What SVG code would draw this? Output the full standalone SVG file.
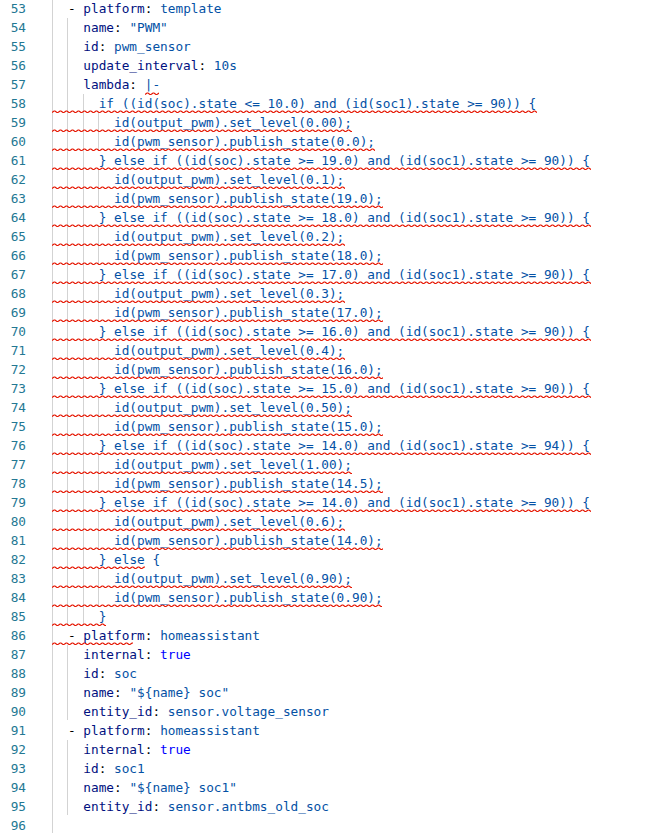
<svg xmlns="http://www.w3.org/2000/svg" width="663" height="833" viewBox="0 0 663 833">
<style>
text{font-family:"DejaVu Sans Mono","Liberation Mono",monospace;font-size:12.75px;white-space:pre;fill:#000}
.n{fill:#237893;text-anchor:end}
.k{fill:#001080}
.v{fill:#0451a5}
.b{fill:#0000ff}
.g{stroke:#d3d3d3;stroke-width:1;fill:none}
.s{fill:url(#sq);height:3px}
</style>
<defs>
<pattern id="sq" patternUnits="userSpaceOnUse" width="6" height="3"><path d="M0 2.5l2-1.5h1l2 1.5h1" fill="none" stroke="#e51400" stroke-width="1.2"/></pattern>
</defs>
<rect width="663" height="833" fill="#fff"/>
<g id="guides">
<path class="g" d="M52.5 0V833M67.5 18V625M67.5 645V720M67.5 740V815M83.5 94V625M98.5 113V151M98.5 170V208M98.5 227V265M98.5 284V322M98.5 341V379M98.5 398V436M98.5 455V493M98.5 512V550M98.5 569V607"/>
</g>
<g id="squiggles">
<rect class="s" transform="translate(145,92)" width="14"/>
<rect class="s" transform="translate(52,110)" width="485"/>
<rect class="s" transform="translate(52,129)" width="300"/>
<rect class="s" transform="translate(52,148)" width="323"/>
<rect class="s" transform="translate(52,167)" width="539"/>
<rect class="s" transform="translate(52,186)" width="293"/>
<rect class="s" transform="translate(52,205)" width="331"/>
<rect class="s" transform="translate(52,224)" width="539"/>
<rect class="s" transform="translate(52,243)" width="293"/>
<rect class="s" transform="translate(52,262)" width="331"/>
<rect class="s" transform="translate(52,281)" width="539"/>
<rect class="s" transform="translate(52,300)" width="293"/>
<rect class="s" transform="translate(52,319)" width="331"/>
<rect class="s" transform="translate(52,338)" width="539"/>
<rect class="s" transform="translate(52,357)" width="293"/>
<rect class="s" transform="translate(52,376)" width="331"/>
<rect class="s" transform="translate(52,395)" width="539"/>
<rect class="s" transform="translate(52,414)" width="300"/>
<rect class="s" transform="translate(52,433)" width="331"/>
<rect class="s" transform="translate(52,452)" width="539"/>
<rect class="s" transform="translate(52,471)" width="300"/>
<rect class="s" transform="translate(52,490)" width="331"/>
<rect class="s" transform="translate(52,509)" width="539"/>
<rect class="s" transform="translate(52,528)" width="293"/>
<rect class="s" transform="translate(52,547)" width="331"/>
<rect class="s" transform="translate(52,566)" width="93"/>
<rect class="s" transform="translate(52,585)" width="300"/>
<rect class="s" transform="translate(52,604)" width="330"/>
<rect class="s" transform="translate(52,623)" width="54"/>
<rect class="s" transform="translate(52,642)" width="81"/>
</g>
<g id="numbers" transform="translate(0,1)">
<text class="n" x="26" y="12">53</text><text class="n" x="26" y="31">54</text><text class="n" x="26" y="50">55</text><text class="n" x="26" y="69">56</text><text class="n" x="26" y="88">57</text><text class="n" x="26" y="107">58</text><text class="n" x="26" y="126">59</text><text class="n" x="26" y="145">60</text><text class="n" x="26" y="164">61</text><text class="n" x="26" y="183">62</text><text class="n" x="26" y="202">63</text><text class="n" x="26" y="221">64</text><text class="n" x="26" y="240">65</text><text class="n" x="26" y="259">66</text><text class="n" x="26" y="278">67</text><text class="n" x="26" y="297">68</text><text class="n" x="26" y="316">69</text><text class="n" x="26" y="335">70</text><text class="n" x="26" y="354">71</text><text class="n" x="26" y="373">72</text><text class="n" x="26" y="392">73</text><text class="n" x="26" y="411">74</text><text class="n" x="26" y="430">75</text><text class="n" x="26" y="449">76</text><text class="n" x="26" y="468">77</text><text class="n" x="26" y="487">78</text><text class="n" x="26" y="506">79</text><text class="n" x="26" y="525">80</text><text class="n" x="26" y="544">81</text><text class="n" x="26" y="563">82</text><text class="n" x="26" y="582">83</text><text class="n" x="26" y="601">84</text><text class="n" x="26" y="620">85</text><text class="n" x="26" y="639">86</text><text class="n" x="26" y="658">87</text><text class="n" x="26" y="677">88</text><text class="n" x="26" y="696">89</text><text class="n" x="26" y="715">90</text><text class="n" x="26" y="734">91</text><text class="n" x="26" y="753">92</text><text class="n" x="26" y="772">93</text><text class="n" x="26" y="791">94</text><text class="n" x="26" y="810">95</text><text class="n" x="26" y="829">96</text>
</g>
<g id="code" transform="translate(0,1)">
<text x="68" y="12">- <tspan class="k">platform</tspan>: <tspan class="v">template</tspan></text>
<text x="83.3" y="31"><tspan class="k">name</tspan>: <tspan class="v">"PWM"</tspan></text>
<text x="83.3" y="50"><tspan class="k">id</tspan>: <tspan class="v">pwm_sensor</tspan></text>
<text x="83.3" y="69"><tspan class="k">update_interval</tspan>: <tspan class="v">10s</tspan></text>
<text x="83.3" y="88"><tspan class="k">lambda</tspan>: <tspan class="v">|-</tspan></text>
<text class="v" x="98.7" y="107">if ((id(soc).state &lt;= 10.0) and (id(soc1).state &gt;= 90)) {</text>
<text class="v" x="114" y="126">id(output_pwm).set_level(0.00);</text>
<text class="v" x="114" y="145">id(pwm_sensor).publish_state(0.0);</text>
<text class="v" x="98.7" y="164">} else if ((id(soc).state &gt;= 19.0) and (id(soc1).state &gt;= 90)) {</text>
<text class="v" x="114" y="183">id(output_pwm).set_level(0.1);</text>
<text class="v" x="114" y="202">id(pwm_sensor).publish_state(19.0);</text>
<text class="v" x="98.7" y="221">} else if ((id(soc).state &gt;= 18.0) and (id(soc1).state &gt;= 90)) {</text>
<text class="v" x="114" y="240">id(output_pwm).set_level(0.2);</text>
<text class="v" x="114" y="259">id(pwm_sensor).publish_state(18.0);</text>
<text class="v" x="98.7" y="278">} else if ((id(soc).state &gt;= 17.0) and (id(soc1).state &gt;= 90)) {</text>
<text class="v" x="114" y="297">id(output_pwm).set_level(0.3);</text>
<text class="v" x="114" y="316">id(pwm_sensor).publish_state(17.0);</text>
<text class="v" x="98.7" y="335">} else if ((id(soc).state &gt;= 16.0) and (id(soc1).state &gt;= 90)) {</text>
<text class="v" x="114" y="354">id(output_pwm).set_level(0.4);</text>
<text class="v" x="114" y="373">id(pwm_sensor).publish_state(16.0);</text>
<text class="v" x="98.7" y="392">} else if ((id(soc).state &gt;= 15.0) and (id(soc1).state &gt;= 90)) {</text>
<text class="v" x="114" y="411">id(output_pwm).set_level(0.50);</text>
<text class="v" x="114" y="430">id(pwm_sensor).publish_state(15.0);</text>
<text class="v" x="98.7" y="449">} else if ((id(soc).state &gt;= 14.0) and (id(soc1).state &gt;= 94)) {</text>
<text class="v" x="114" y="468">id(output_pwm).set_level(1.00);</text>
<text class="v" x="114" y="487">id(pwm_sensor).publish_state(14.5);</text>
<text class="v" x="98.7" y="506">} else if ((id(soc).state &gt;= 14.0) and (id(soc1).state &gt;= 90)) {</text>
<text class="v" x="114" y="525">id(output_pwm).set_level(0.6);</text>
<text class="v" x="114" y="544">id(pwm_sensor).publish_state(14.0);</text>
<text class="v" x="98.7" y="563">} else {</text>
<text class="v" x="114" y="582">id(output_pwm).set_level(0.90);</text>
<text class="v" x="114" y="601">id(pwm_sensor).publish_state(0.90);</text>
<text class="v" x="98.7" y="620">}</text>
<text x="68" y="639">- <tspan class="k">platform</tspan>: <tspan class="v">homeassistant</tspan></text>
<text x="83.3" y="658"><tspan class="k">internal</tspan>: <tspan class="b">true</tspan></text>
<text x="83.3" y="677"><tspan class="k">id</tspan>: <tspan class="v">soc</tspan></text>
<text x="83.3" y="696"><tspan class="k">name</tspan>: <tspan class="v">"${name} soc"</tspan></text>
<text x="83.3" y="715"><tspan class="k">entity_id</tspan>: <tspan class="v">sensor.voltage_sensor</tspan></text>
<text x="68" y="734">- <tspan class="k">platform</tspan>: <tspan class="v">homeassistant</tspan></text>
<text x="83.3" y="753"><tspan class="k">internal</tspan>: <tspan class="b">true</tspan></text>
<text x="83.3" y="772"><tspan class="k">id</tspan>: <tspan class="v">soc1</tspan></text>
<text x="83.3" y="791"><tspan class="k">name</tspan>: <tspan class="v">"${name} soc1"</tspan></text>
<text x="83.3" y="810"><tspan class="k">entity_id</tspan>: <tspan class="v">sensor.antbms_old_soc</tspan></text>
</g>
</svg>
